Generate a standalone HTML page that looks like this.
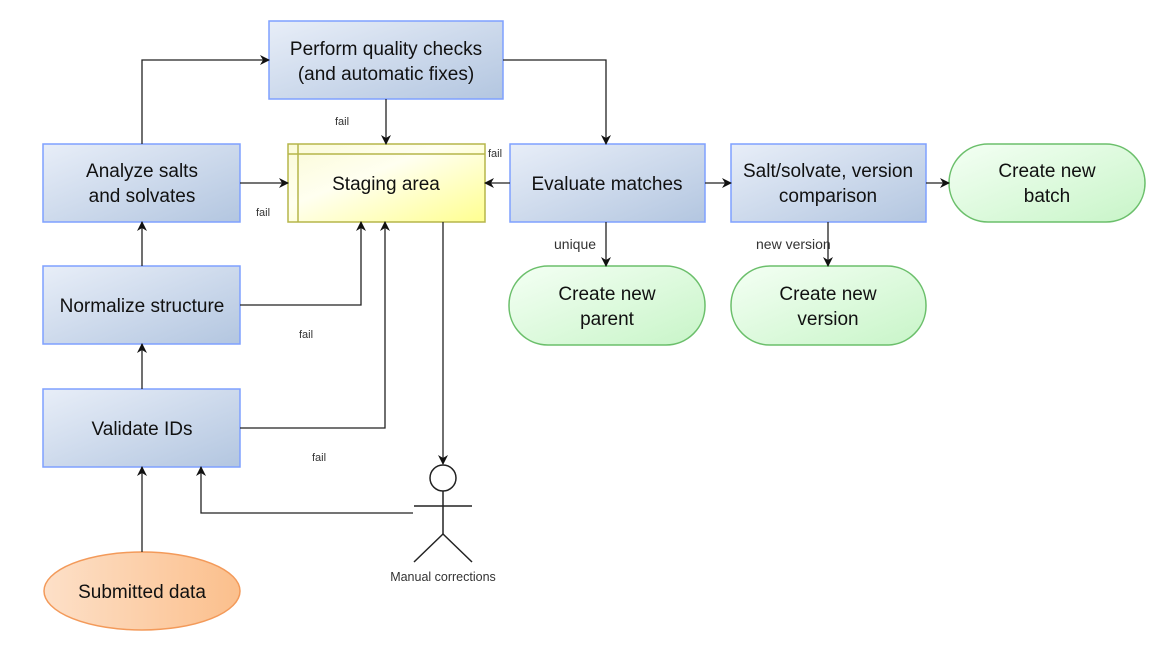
<!DOCTYPE html>
<html><head><meta charset="utf-8"><style>
html,body{margin:0;padding:0;background:#fff;width:1162px;height:645px;overflow:hidden}
text{font-family:"Liberation Sans",Arial,sans-serif;fill:#111}
.big{font-size:19px}
.sm{font-size:11px;fill:#333}
</style></head><body>
<svg width="1162" height="645" viewBox="0 0 1162 645" xmlns="http://www.w3.org/2000/svg">
<defs>
<linearGradient id="bl" x1="0" y1="0" x2="1" y2="1"><stop offset="0" stop-color="#e8eef8"/><stop offset="1" stop-color="#b3c6e0"/></linearGradient>
<linearGradient id="ye" x1="0" y1="0" x2="1" y2="1"><stop offset="0" stop-color="#fbfbd8"/><stop offset="0.4" stop-color="#fffff0"/><stop offset="1" stop-color="#ffff90"/></linearGradient>
<linearGradient id="gr" x1="0" y1="0" x2="1" y2="1"><stop offset="0" stop-color="#f4fff4"/><stop offset="1" stop-color="#c8f5c8"/></linearGradient>
<linearGradient id="or" x1="0" y1="0" x2="1" y2="0"><stop offset="0" stop-color="#fde0c8"/><stop offset="1" stop-color="#fbbf8c"/></linearGradient>
<marker id="a" markerWidth="10" markerHeight="10" refX="9" refY="5" orient="auto" markerUnits="userSpaceOnUse"><path d="M0,0 L10,5 L0,10 L3,5 Z" fill="#111"/></marker>
</defs>
<g fill="url(#bl)" stroke="#7fa0ff" stroke-width="1.5">
<rect x="269" y="21" width="234" height="78"/>
<rect x="43" y="144" width="197" height="78"/>
<rect x="43" y="266" width="197" height="78"/>
<rect x="43" y="389" width="197" height="78"/>
<rect x="510" y="144" width="195" height="78"/>
<rect x="731" y="144" width="195" height="78"/>
</g>
<rect x="288" y="144" width="197" height="78" fill="url(#ye)" stroke="#b5b54a" stroke-width="1.5"/>
<line x1="298" y1="144" x2="298" y2="222" stroke="#b5b54a" stroke-width="1.5"/>
<line x1="288" y1="154" x2="485" y2="154" stroke="#b5b54a" stroke-width="1.5"/>
<g fill="url(#gr)" stroke="#6bbf6b" stroke-width="1.5">
<rect x="949" y="144" width="196" height="78" rx="39"/>
<rect x="509" y="266" width="196" height="79" rx="39"/>
<rect x="731" y="266" width="195" height="79" rx="39"/>
</g>
<ellipse cx="142" cy="591" rx="98" ry="39" fill="url(#or)" stroke="#f39a5a" stroke-width="1.5"/>
<g stroke="#222" stroke-width="1.3" fill="none" marker-end="url(#a)">
<path d="M142,144 V60 H269"/>
<path d="M503,60 H606 V144"/>
<path d="M386,99 V144"/>
<path d="M240,183 H288"/>
<path d="M510,183 H485"/>
<path d="M240,305 H361 V222"/>
<path d="M240,428 H385 V222"/>
<path d="M443,222 V464"/>
<path d="M413,513 H201 V467"/>
<path d="M142,552 V467"/>
<path d="M142,266 V222"/>
<path d="M142,389 V344"/>
<path d="M705,183 H731"/>
<path d="M926,183 H949"/>
<path d="M606,222 V266"/>
<path d="M828,222 V266"/>
</g>
<g stroke="#222" stroke-width="1.5" fill="none">
<circle cx="443" cy="478" r="13"/>
<line x1="414" y1="506" x2="472" y2="506"/>
<line x1="443" y1="491" x2="443" y2="534"/>
<line x1="443" y1="534" x2="414" y2="562"/>
<line x1="443" y1="534" x2="472" y2="562"/>
</g>
<g text-anchor="middle">
<text x="386" y="55" class="big">Perform quality checks</text>
<text x="386" y="80" class="big">(and automatic fixes)</text>
<text x="386" y="190" class="big">Staging area</text>
<text x="142" y="177" class="big">Analyze salts</text>
<text x="142" y="202" class="big">and solvates</text>
<text x="142" y="312" class="big">Normalize structure</text>
<text x="142" y="435" class="big">Validate IDs</text>
<text x="142" y="598" class="big">Submitted data</text>
<text x="607" y="190" class="big">Evaluate matches</text>
<text x="828" y="177" class="big">Salt/solvate, version</text>
<text x="828" y="202" class="big">comparison</text>
<text x="1047" y="177" class="big">Create new</text>
<text x="1047" y="202" class="big">batch</text>
<text x="607" y="300" class="big">Create new</text>
<text x="607" y="325" class="big">parent</text>
<text x="828" y="300" class="big">Create new</text>
<text x="828" y="325" class="big">version</text>
<text x="443" y="581" class="sm" style="font-size:12.5px">Manual corrections</text>
</g>
<g>
<text x="335" y="125" class="sm">fail</text>
<text x="256" y="216" class="sm">fail</text>
<text x="488" y="157" class="sm">fail</text>
<text x="299" y="338" class="sm">fail</text>
<text x="312" y="461" class="sm">fail</text>
<text x="554" y="249" class="sm" style="font-size:14px">unique</text>
<text x="756" y="249" class="sm" style="font-size:14px">new version</text>
</g>
</svg>
</body></html>
